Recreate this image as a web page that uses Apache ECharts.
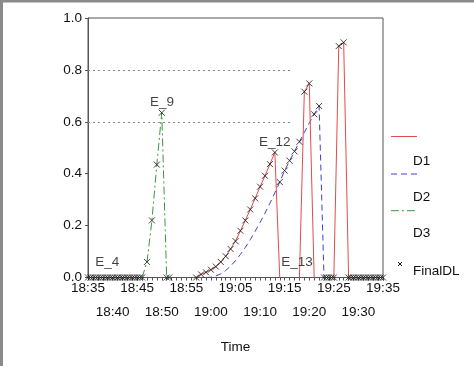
<!DOCTYPE html>
<html><head><meta charset="utf-8">
<script src="https://cdn.jsdelivr.net/npm/echarts@6/dist/echarts.min.js"></script>
<style>html,body{margin:0;padding:0;background:#fff}#c{width:474px;height:366px}</style>
</head><body><div id="c"></div>
<script>
// ---- tick labels ----
const xTickLabels = ['18:35','18:40','18:45','18:50','18:55','19:00','19:05','19:10','19:15','19:20','19:25','19:30','19:35'];
const yTickLabels = ['0.0','0.2','0.4','0.6','0.8','1.0'];
// minutes after 18:35
const d1Times  = [22,23,24,25,26,27,28,29,30,31,32,33,34,35,36,37,38,39,41,43,44,45,46,48,50,51,52,53];
const d1Values = [0,0.012,0.02,0.03,0.042,0.06,0.082,0.11,0.14,0.18,0.22,0.262,0.305,0.35,0.392,0.437,0.482,0,null,0,0.716,0.748,0,null,0,0.892,0.906,0];
const d2Times  = [24,25,26,27,28,29,30,31,32,33,34,35,36,37,38,39,40,41,42,43,44,45,46,47,48];
const d2Values = [0,0.001,0.006,0.014,0.027,0.044,0.065,0.089,0.116,0.146,0.178,0.212,0.248,0.286,0.326,0.368,0.412,0.45,0.486,0.523,0.559,0.595,0.629,0.661,0];
const d3Times  = [11,12,13,14,15,16];
const d3Values = [0,0.06,0.22,0.435,0.635,0];
const finalTimes  = [0,0.5,1,1.5,2,2.5,3,3.5,4,4.5,5,5.5,6,6.5,7,7.5,8,8.5,9,9.5,10,10.5,11,
  12,13,14,15,16,16.5,
  22,23,24,25,26,27,28,29,30,31,32,33,34,35,36,37,38,
  39,40,41,42,43,44,45,46,47,48,48.5,49,49.5,50,51,52,
  53,53.5,54,54.5,55,55.5,56,56.5,57,57.5,58,58.5,59,59.5,60];
const finalValues = [0,0,0,0,0,0,0,0,0,0,0,0,0,0,0,0,0,0,0,0,0,0,0,
  0.06,0.22,0.435,0.635,0,0,
  0,0.012,0.02,0.03,0.042,0.06,0.082,0.11,0.14,0.18,0.22,0.262,0.305,0.35,0.392,0.437,0.482,
  0.368,0.412,0.45,0.486,0.523,0.716,0.748,0.629,0.661,0,0,0,0,0,0.892,0.906,
  0,0,0,0,0,0,0,0,0,0,0,0,0,0,0];
const refLevels = [0.6, 0.8];
const refEnd = 41.7;
const annoNames = ['E_4','E_9','E_12','E_13'];
const annoT = [3.9, 15.05, 38.0, 42.5];
const annoY = [0.057, 0.677, 0.522, 0.06];

const FONT = '"Liberation Sans", Arial, Helvetica, sans-serif';
const FS = 13.5;
const RED = '#e34a4a', BLUE = '#3f3fd9', GREEN = '#3c963c', AX = '#555';
const pairs = (t, v) => t.map((x, i) => [x, v[i] === null ? '-' : v[i]]);
const rowLabel = row => v => { const i = Math.round(v / 5); return i % 2 === row ? xTickLabels[i] : ''; };

const chart = echarts.init(document.getElementById('c'), null, {renderer: 'canvas'});
chart.setOption({
  animation: false,
  backgroundColor: '#fff',
  grid: {left: 88, top: 18, right: 91, bottom: 88.5, show: true, borderColor: AX, borderWidth: 1, backgroundColor: 'transparent'},
  xAxis: [{
    type: 'value', min: 0, max: 60, interval: 5, position: 'bottom', offset: 0,
    axisLine: {show: true, onZero: false, lineStyle: {color: AX, width: 1}},
    axisTick: {show: true, length: 3, lineStyle: {color: AX}},
    minorTick: {show: true, splitNumber: 5, length: 3, lineStyle: {color: AX}},
    splitLine: {show: false}, minorSplitLine: {show: false},
    axisLabel: {
      margin: 3.5, fontSize: FS, fontFamily: FONT, color: '#111', lineHeight: 14,
      showMinLabel: true, showMaxLabel: true, hideOverlap: false,
      formatter: rowLabel(0)
    },
    name: 'Time', nameLocation: 'middle', nameGap: 63,
    nameTextStyle: {fontSize: FS, fontFamily: FONT, color: '#111'}
  }, {
    type: 'value', min: 0, max: 60, interval: 5, position: 'bottom', offset: 0,
    axisLine: {show: false, onZero: false}, axisTick: {show: false},
    splitLine: {show: false},
    axisLabel: {
      margin: 27.5, fontSize: FS, fontFamily: FONT, color: '#111', lineHeight: 14,
      showMinLabel: true, showMaxLabel: true, hideOverlap: false,
      formatter: rowLabel(1)
    }
  }],
  yAxis: {
    type: 'value', min: 0, max: 1, interval: 0.2,
    axisLine: {show: true, lineStyle: {color: AX, width: 1}},
    axisTick: {show: true, length: 3, lineStyle: {color: AX}},
    splitLine: {show: false},
    axisLabel: {margin: 6, fontSize: FS, fontFamily: FONT, color: '#111',
      formatter: v => yTickLabels[Math.round(v / 0.2)]}
  },
  series: [
    {name: 'D3', type: 'line', data: pairs(d3Times, d3Values), showSymbol: false, connectNulls: false,
     lineStyle: {color: GREEN, width: 1, type: [8, 3, 2, 3]}, z: 3,
     markLine: {symbol: 'none', silent: true, label: {show: false},
       lineStyle: {type: [2, 3], color: '#888', width: 1},
       data: refLevels.map(y => [{coord: [0, y]}, {coord: [refEnd, y]}])}},
    {name: 'D2', type: 'line', data: pairs(d2Times, d2Values), showSymbol: false, connectNulls: false,
     lineStyle: {color: BLUE, width: 1, type: [6, 4]}, z: 3},
    {name: 'D1', type: 'line', data: pairs(d1Times, d1Values), showSymbol: false, connectNulls: false,
     lineStyle: {color: RED, width: 1}, z: 4},
    {name: 'FinalDL', type: 'scatter', data: pairs(finalTimes, finalValues),
     symbol: 'path://M0,0L10,10M10,0L0,10', symbolSize: 6,
     itemStyle: {color: 'rgba(0,0,0,0)', borderColor: '#111', borderWidth: 1}, z: 5},
    {name: 'labels', type: 'scatter', silent: true, symbolSize: 0,
     data: annoNames.map((n, i) => ({name: n, value: [annoT[i], annoY[i]]})),
     label: {show: true, position: 'inside', formatter: '{b}', fontSize: FS, fontFamily: FONT, color: '#111'}, z: 6}
  ],
  graphic: [
    {type: 'rect', shape: {x: 0, y: 0, width: 474, height: 2.5}, style: {fill: '#8a8a8a'}, silent: true},
    {type: 'rect', shape: {x: 0, y: 0, width: 3, height: 366}, style: {fill: '#8a8a8a'}, silent: true},
    {type: 'line', shape: {x1: 391, y1: 136.5, x2: 417, y2: 136.5}, style: {stroke: RED, lineWidth: 1}},
    {type: 'text', style: {text: 'D1', x: 413, y: 161, fill: '#111', font: FS + 'px ' + FONT, verticalAlign: 'middle', align: 'left'}},
    {type: 'line', shape: {x1: 391, y1: 174, x2: 417, y2: 174}, style: {stroke: BLUE, lineWidth: 1, lineDash: [6, 4]}},
    {type: 'text', style: {text: 'D2', x: 413, y: 197, fill: '#111', font: FS + 'px ' + FONT, verticalAlign: 'middle', align: 'left'}},
    {type: 'line', shape: {x1: 391, y1: 210.7, x2: 417, y2: 210.7}, style: {stroke: GREEN, lineWidth: 1, lineDash: [8, 3, 2, 3]}},
    {type: 'text', style: {text: 'D3', x: 413, y: 233, fill: '#111', font: FS + 'px ' + FONT, verticalAlign: 'middle', align: 'left'}},
    {type: 'line', shape: {x1: 398, y1: 262, x2: 402, y2: 266}, style: {stroke: '#111', lineWidth: 1}},
    {type: 'line', shape: {x1: 402, y1: 262, x2: 398, y2: 266}, style: {stroke: '#111', lineWidth: 1}},
    {type: 'text', style: {text: 'FinalDL', x: 413, y: 271, fill: '#111', font: FS + 'px ' + FONT, verticalAlign: 'middle', align: 'left'}}
  ]
});
</script></body></html>
